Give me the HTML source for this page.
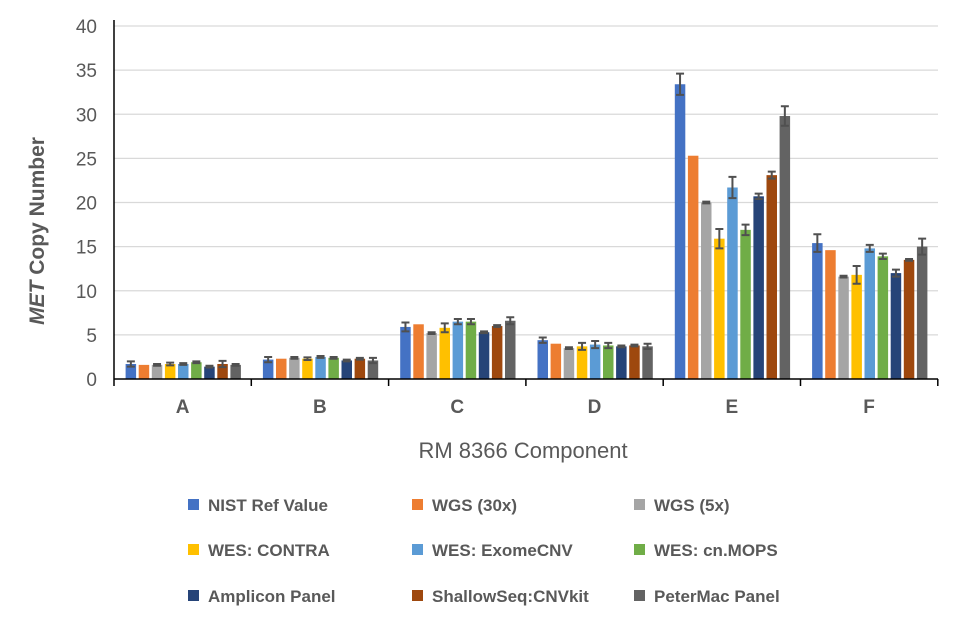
<!DOCTYPE html>
<html><head><meta charset="utf-8"><style>body{margin:0;background:#fff}svg{display:block}text{font-family:"Liberation Sans",sans-serif;fill:#595959}</style></head>
<body>
<svg width="960" height="620" viewBox="0 0 960 620">
<g id="grid" stroke="#d9d9d9" stroke-width="1.3"></g>
<g id="bars"></g>
<g id="axes"></g>
<g id="legend"></g>
<text x="18" y="205" font-size="21" font-weight="bold" transform="rotate(-90 44 205)" text-anchor="middle" x2="0"><tspan font-style="italic">MET</tspan> Copy Number</text>
<text x="523" y="458" font-size="22" text-anchor="middle">RM 8366 Component</text>
<script>
const ns="http://www.w3.org/2000/svg";
function el(p,t,a,txt){const e=document.createElementNS(ns,t);for(const k in a)e.setAttribute(k,a[k]);if(txt!==undefined)e.textContent=txt;document.getElementById(p).appendChild(e);return e;}
const Y=v=>379-v*8.825;
const cols=["#4472c4","#ed7d31","#a5a5a5","#ffc000","#5b9bd5","#70ad47","#264478","#9e480e","#636363"];
const names=["NIST Ref Value","WGS (30x)","WGS (5x)","WES: CONTRA","WES: ExomeCNV","WES: cn.MOPS","Amplicon Panel","ShallowSeq:CNVkit","PeterMac Panel"];
const data=[[1.7,1.6,1.6,1.7,1.7,1.9,1.4,1.7,1.6],[2.2,2.3,2.4,2.3,2.5,2.4,2.1,2.3,2.1],[5.9,6.2,5.2,5.8,6.5,6.5,5.3,6.0,6.6],[4.4,4.0,3.5,3.7,3.9,3.8,3.7,3.8,3.7],[33.4,25.3,20.0,15.9,21.7,16.9,20.7,23.1,29.8],[15.4,14.6,11.6,11.8,14.8,13.9,12.0,13.5,15.0]];
const err=[[0.3,0,0.1,0.15,0.1,0.1,0.1,0.35,0.1],[0.3,0,0.1,0.15,0.1,0.1,0.1,0.1,0.3],[0.5,0,0.1,0.5,0.3,0.3,0.1,0.1,0.4],[0.3,0,0.1,0.4,0.4,0.3,0.1,0.1,0.3],[1.2,0,0.1,1.1,1.2,0.6,0.3,0.4,1.1],[1.0,0,0.1,1.0,0.4,0.3,0.4,0.1,0.9]];
for(let v=5;v<=40;v+=5)el("grid","line",{x1:114,x2:938,y1:Y(v),y2:Y(v)});
data.forEach((g,i)=>g.forEach((v,j)=>{const x=114+i*137.3+11.6+j*13.1;el("bars","rect",{x:x,y:Y(v),width:10.5,height:v*8.825,fill:cols[j]});
 const e=err[i][j];if(e>0){const cx=x+5.25;el("bars","path",{d:`M${cx} ${Y(v+e)}V${Y(v-e)}M${cx-4} ${Y(v+e)}h8M${cx-4} ${Y(v-e)}h8`,stroke:"#505050","stroke-width":2,fill:"none"});}}));
el("axes","line",{x1:114,x2:114,y1:20,y2:379,stroke:"#000","stroke-width":1.5});
el("axes","line",{x1:114,x2:938,y1:379,y2:379,stroke:"#000","stroke-width":1.5});
for(let i=0;i<=6;i++)el("axes","line",{x1:114+i*137.3,x2:114+i*137.3,y1:379,y2:386,stroke:"#000","stroke-width":1.5});
for(let v=0;v<=40;v+=5)el("axes","text",{x:97,y:Y(v)+7,"font-size":19,"text-anchor":"end"},v);
"ABCDEF".split("").forEach((c,i)=>el("axes","text",{x:114+i*137.3+68.6,y:413,"font-size":19,"font-weight":"bold","text-anchor":"middle"},c));
names.forEach((n,k)=>{const c=k%3,r=Math.floor(k/3);const x=[188,412,634][c],y=[505,550,596][r];
 el("legend","rect",{x:x,y:y-6,width:11,height:11,fill:cols[k]});
 el("legend","text",{x:x+20,y:y+6,"font-size":17,"font-weight":"bold"},n);});
</script>
</svg>
</body></html>
